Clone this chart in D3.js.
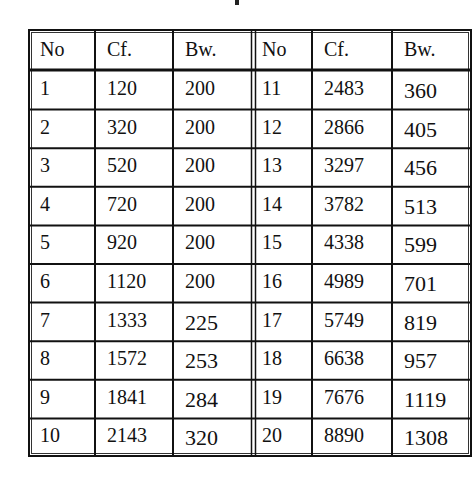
<!DOCTYPE html><html><head><meta charset="utf-8"><script src="https://d3js.org/d3.v7.min.js"></script>
<style>body{margin:0;background:#fff}</style></head><body><svg id="c" width="474" height="485"></svg>
<script>
const headers=["No","Cf.","Bw.","No","Cf.","Bw."];
const no1=[1,2,3,4,5,6,7,8,9,10];
const cf1=[120,320,520,720,920,1120,1333,1572,1841,2143];
const bw1=[200,200,200,200,200,200,225,253,284,320];
const no2=[11,12,13,14,15,16,17,18,19,20];
const cf2=[2483,2866,3297,3782,4338,4989,5749,6638,7676,8890];
const bw2=[360,405,456,513,599,701,819,957,1119,1308];
const svg=d3.select("#c");
const colEdges=[28,95,173,253,312,392,472];
const x0=28,x1=472,yTop=29,yHead=71,yBot=457;
const y=d3.scaleBand().domain(d3.range(10)).range([yHead,yBot]);
const cols=[no1,cf1,bw1,no2,cf2,bw2];
svg.append("rect").attr("x",235).attr("y",0).attr("width",4).attr("height",5).attr("fill","#222");
const g=svg.append("g");
g.append("rect").attr("x",x0+1).attr("y",yTop+1).attr("width",x1-x0-2).attr("height",yBot-yTop-2).attr("fill","none").attr("stroke","#111").attr("stroke-width",2);
g.append("rect").attr("x",x0+3.5).attr("y",yTop+3.5).attr("width",x1-x0-7).attr("height",yBot-yTop-7).attr("fill","none").attr("stroke","#333").attr("stroke-width",1);
g.append("line").attr("x1",x0).attr("x2",x1).attr("y1",yHead-1).attr("y2",yHead-1).attr("stroke","#111").attr("stroke-width",3);
d3.range(1,10).forEach(i=>g.append("line").attr("x1",x0).attr("x2",x1).attr("y1",y(i)).attr("y2",y(i)).attr("stroke","#111").attr("stroke-width",2));
[95,173,312,392].forEach(cx=>g.append("line").attr("x1",cx).attr("x2",cx).attr("y1",yTop).attr("y2",yBot).attr("stroke","#111").attr("stroke-width",2));
[251.5,255.5].forEach(cx=>g.append("line").attr("x1",cx).attr("x2",cx).attr("y1",yTop).attr("y2",yBot).attr("stroke","#111").attr("stroke-width",1.5));
const font="'Liberation Serif','Times New Roman',serif";
headers.forEach((h,j)=>g.append("text").attr("x",colEdges[j]+(j==3?9:12)).attr("y",56).text(h).attr("font-family",font).attr("font-size",20).attr("fill","#111"));
cols.forEach((arr,j)=>arr.forEach((v,i)=>{
  const big=(j==2&&i>=6)||j==5;
  g.append("text").attr("x",colEdges[j]+(j==3?9:12)).attr("y",y(i)+(big?27:24)).text(v)
   .attr("font-family",font).attr("font-size",big?22:20).attr("fill","#111");
}));
</script></body></html>
